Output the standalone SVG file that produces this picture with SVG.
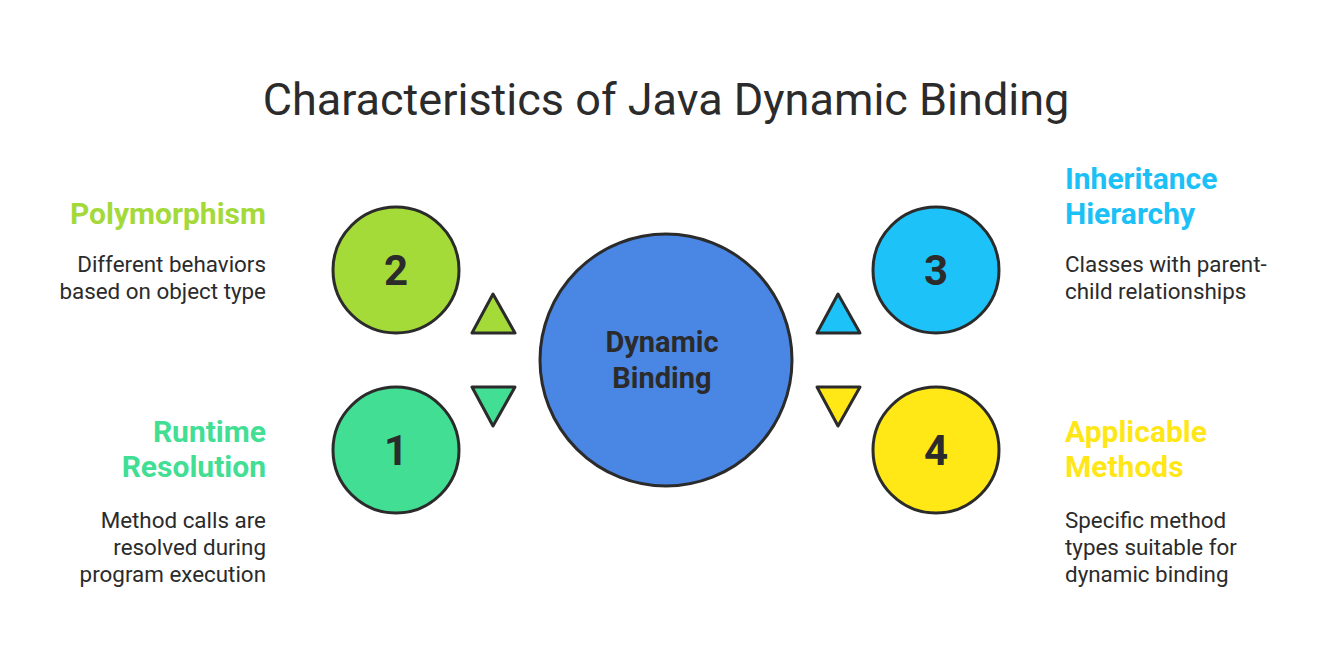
<svg xmlns="http://www.w3.org/2000/svg" width="1332" height="666" viewBox="0 0 1332 666">
<style>
text{font-family:Roboto,"Liberation Sans",sans-serif;fill:#2b2b2b}
.title{font-size:45px}
.num{font-size:42px;font-weight:700;text-anchor:middle}
.head{font-size:30px;font-weight:700}
.desc{font-size:22.4px}
.center{font-size:29px;font-weight:700;text-anchor:middle}
.sh{stroke:#2b2b2b;stroke-width:3;stroke-linejoin:round}
.r{text-anchor:end}
</style>
<rect width="1332" height="666" fill="#ffffff"/>
<text class="title" x="666" y="115" text-anchor="middle">Characteristics of Java Dynamic Binding</text>
<g id="connectors">
<polygon class="sh" points="493,294 515,333 472,333" fill="#A4DB38"/>
<polygon class="sh" points="472,387 515,387 493,426" fill="#41DE94"/>
<polygon class="sh" points="838,294 860,333 817,333" fill="#1DC3F8"/>
<polygon class="sh" points="817,387 860,387 838,426" fill="#FFE816"/>
</g>
<g id="center">
<circle class="sh" cx="666" cy="360" r="126" fill="#4A86E4"/>
<text class="center" x="662" y="352">Dynamic</text>
<text class="center" x="662" y="388">Binding</text>
</g>
<g id="node2">
<circle class="sh" cx="396" cy="270" r="63" fill="#A4DB38"/>
<text class="num" x="396" y="285">2</text>
<text class="head r" x="266" y="224" style="fill:#A4D93A">Polymorphism</text>
<text class="desc r" x="266" y="272">Different behaviors</text>
<text class="desc r" x="266" y="299">based on object type</text>
</g>
<g id="node1">
<circle class="sh" cx="396" cy="450" r="63" fill="#41DE94"/>
<text class="num" x="396" y="465">1</text>
<text class="head r" x="266" y="442" style="fill:#41DE94">Runtime</text>
<text class="head r" x="266" y="477" style="fill:#41DE94">Resolution</text>
<text class="desc r" x="266" y="528">Method calls are</text>
<text class="desc r" x="266" y="555">resolved during</text>
<text class="desc r" x="266" y="582">program execution</text>
</g>
<g id="node3">
<circle class="sh" cx="936" cy="270" r="63" fill="#1DC3F8"/>
<text class="num" x="936" y="285">3</text>
<text class="head" x="1065" y="189" style="fill:#1BC1F6">Inheritance</text>
<text class="head" x="1065" y="224" style="fill:#1BC1F6">Hierarchy</text>
<text class="desc" x="1065" y="272">Classes with parent-</text>
<text class="desc" x="1065" y="299">child relationships</text>
</g>
<g id="node4">
<circle class="sh" cx="936" cy="450" r="63" fill="#FFE816"/>
<text class="num" x="936" y="465">4</text>
<text class="head" x="1065" y="442" style="fill:#FFE616">Applicable</text>
<text class="head" x="1065" y="477" style="fill:#FFE616">Methods</text>
<text class="desc" x="1065" y="528">Specific method</text>
<text class="desc" x="1065" y="555">types suitable for</text>
<text class="desc" x="1065" y="582">dynamic binding</text>
</g>
</svg>
